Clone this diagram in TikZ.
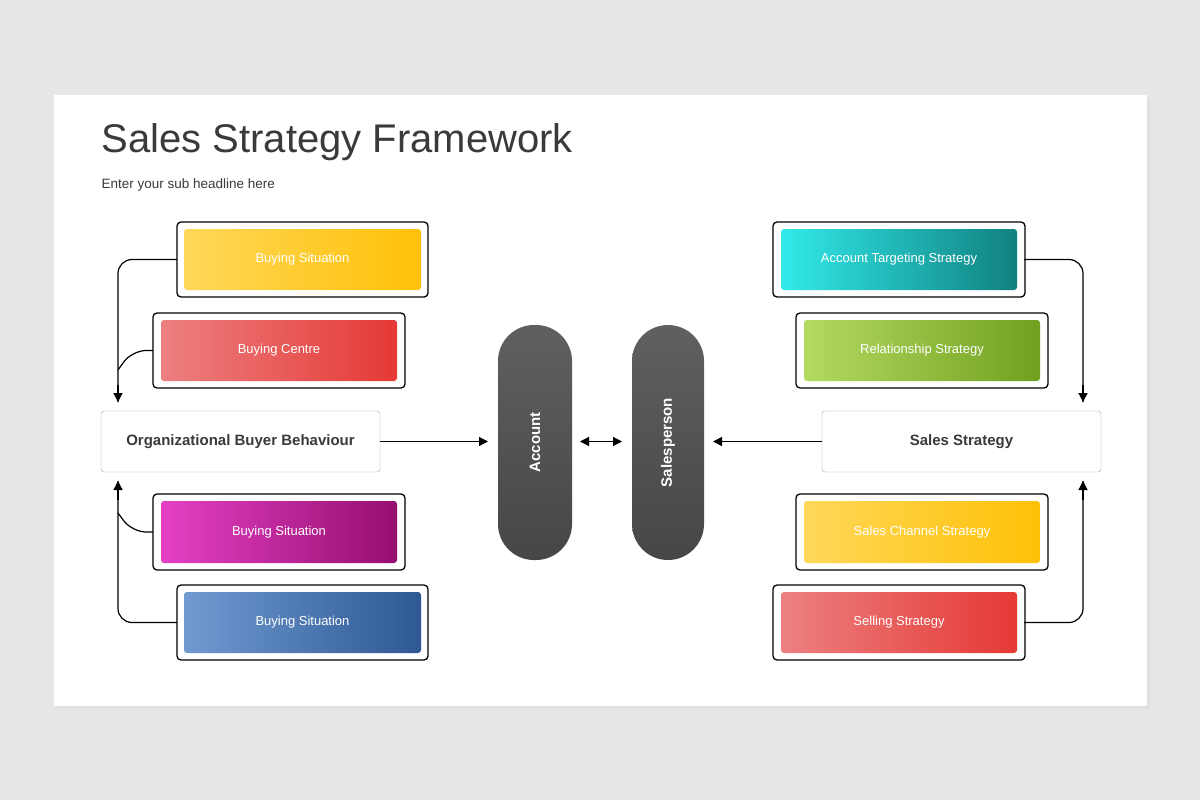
\documentclass[tikz,border=0pt]{standalone}
\usepackage{fontspec}
\setmainfont{Liberation Sans}
\usetikzlibrary{arrows.meta}
\definecolor{bg}{HTML}{E8E6E8}
\definecolor{ink}{HTML}{3A3A3A}
\tikzset{
  frame/.style={draw=black, line width=1.3pt, rounded corners=4pt},
  tile/.style={rounded corners=3pt, text=white, font=\fontsize{13}{15}\selectfont},
  plain/.style={draw=gray!70, fill=white, rounded corners=3pt, font=\bfseries\fontsize{15}{17}\selectfont, text=ink},
  pill/.style={rounded corners=36pt, top color=gray!75!black, bottom color=gray!55!black, text=white, font=\bfseries\fontsize{15}{17}\selectfont},
  link/.style={line width=1.2pt, rounded corners=14pt},
  tip/.style={-{Triangle[length=9pt,width=9pt]}, line width=1.2pt}
}
\begin{document}
\begin{tikzpicture}[x=1pt,y=-1pt]
  \useasboundingbox (0,0) rectangle (1200,800);
  \fill[bg] (0,0) rectangle (1200,800);
  \fill[black!12] (56,98) rectangle (1150,709);
  \fill[white] (54,95) rectangle (1147,706);

  \node[anchor=west, text=ink, font=\fontsize{40}{44}\selectfont] (title) at (98,142) {Sales Strategy Framework};
  \node[anchor=west, text=ink, font=\fontsize{13.5}{15}\selectfont] (sub) at (98,185) {Enter your sub headline here};

  % left side
  \draw[frame] (177,222) rectangle (428,297) coordinate (f1);
  \node[tile, minimum width=237pt, minimum height=61pt, left color={rgb,255:red,255;green,216;blue,90}, right color={rgb,255:red,255;green,193;blue,7}] (bs1) at (302.5,259.5) {Buying Situation};
  \draw[frame] (153,313) rectangle (405,388);
  \node[tile, minimum width=236pt, minimum height=61pt, left color={rgb,255:red,236;green,128;blue,128}, right color={rgb,255:red,229;green,57;blue,53}] (bc) at (279,350.5) {Buying Centre};
  \draw[frame] (153,494) rectangle (405,570);
  \node[tile, minimum width=236pt, minimum height=62pt, left color={rgb,255:red,228;green,64;blue,196}, right color={rgb,255:red,150;green,14;blue,112}] (bs2) at (279,532) {Buying Situation};
  \draw[frame] (177,585) rectangle (428,660);
  \node[tile, minimum width=237pt, minimum height=61pt, left color={rgb,255:red,112;green,154;blue,208}, right color={rgb,255:red,46;green,88;blue,148}] (bs3) at (302.5,622.5) {Buying Situation};

  \node[plain, minimum width=279pt, minimum height=61pt] (obb) at (240.5,441.5) {Organizational Buyer Behaviour};

  % centre
  \node[pill, minimum width=74pt, minimum height=235pt] (acc) at (535,442.5) {};
  \node[rotate=90, text=white, font=\bfseries\fontsize{15}{17}\selectfont] at (acc) {Account};
  \node[pill, minimum width=72pt, minimum height=235pt] (sp) at (668,442.5) {};
  \node[rotate=90, text=white, font=\bfseries\fontsize{15}{17}\selectfont] at (sp) {Salesperson};

  % right side
  \draw[frame] (773,222) rectangle (1025,297);
  \node[tile, minimum width=236pt, minimum height=61pt, left color={rgb,255:red,50;green,234;blue,234}, right color={rgb,255:red,16;green,128;blue,128}] (ats) at (899,259.5) {Account Targeting Strategy};
  \draw[frame] (796,313) rectangle (1048,388);
  \node[tile, minimum width=236pt, minimum height=61pt, left color={rgb,255:red,180;green,218;blue,96}, right color={rgb,255:red,112;green,160;blue,32}] (rs) at (922,350.5) {Relationship Strategy};
  \draw[frame] (796,494) rectangle (1048,570);
  \node[tile, minimum width=236pt, minimum height=62pt, left color={rgb,255:red,255;green,216;blue,90}, right color={rgb,255:red,255;green,193;blue,7}] (scs) at (922,532) {Sales Channel Strategy};
  \draw[frame] (773,585) rectangle (1025,660);
  \node[tile, minimum width=236pt, minimum height=61pt, left color={rgb,255:red,236;green,128;blue,128}, right color={rgb,255:red,229;green,57;blue,53}] (sel) at (899,622.5) {Selling Strategy};

  \node[plain, minimum width=279pt, minimum height=61pt] (ss) at (961.5,441.5) {Sales Strategy};

  % connectors
  \coordinate (lt) at (118,402);
  \coordinate (lb) at (118,481);
  \coordinate (rt) at (1083,402);
  \coordinate (rb) at (1083,481);
  \draw[link] (bs1.west) ++(-7,0) -| (lt);
  \draw[tip] (118,385) -- (lt);
  \draw[link] (bc.west) ++(-8,0) -- (132,350.5) -- (118,370);
  \draw[link] (bs3.west) ++(-7,0) -| (lb);
  \draw[tip] (118,500) -- (lb);
  \draw[link] (bs2.west) ++(-8,0) -- (132,532) -- (118,513);
  \draw[link] (ats.east) ++(7,0) -| (rt);
  \draw[tip] (1083,385) -- (rt);
  \draw[link] (sel.east) ++(7,0) -| (rb);
  \draw[tip] (1083,500) -- (rb);

  \draw[tip] (obb.east) -- (488,441.5);
  \draw[{Triangle[length=9pt,width=9pt]}-{Triangle[length=9pt,width=9pt]}, line width=1.2pt] (580,441.5) -- (622,441.5);
  \draw[tip] (ss.west) -- (713,441.5);
\end{tikzpicture}
\end{document}
